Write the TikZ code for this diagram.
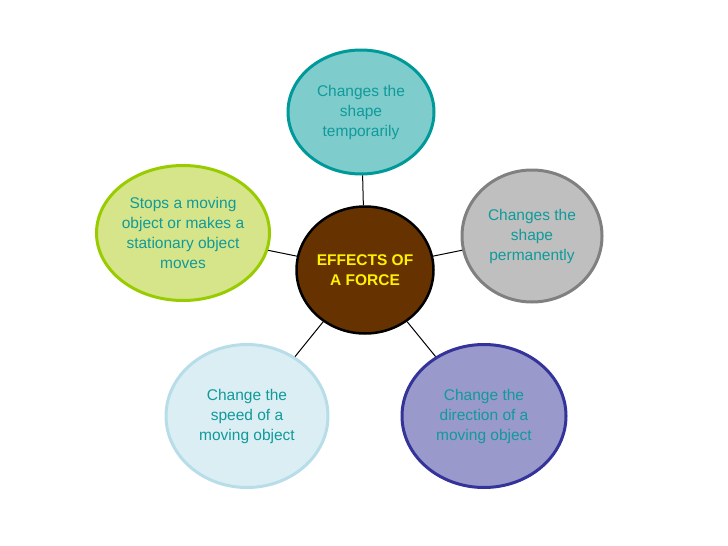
\documentclass[tikz,border=0pt]{standalone}
\usepackage{fontspec}
\setmainfont{Liberation Sans}
\usetikzlibrary{shapes.geometric}
\begin{document}
\begin{tikzpicture}[x=1pt,y=-1pt,
  bub/.style={ellipse,line width=3pt,font=\fontsize{15.5}{20}\selectfont,align=center,inner sep=0pt},
  con/.style={line width=1pt}]
\useasboundingbox (0,0) rectangle (728,546);
\definecolor{tealtext}{HTML}{109A9A}
\node[bub,text=tealtext,draw={rgb,255:red,0;green,153;blue,153},fill={rgb,255:red,127;green,204;blue,204},minimum width=146pt,minimum height=124pt] (t) at (361,112) {Changes the\\shape\\temporarily};
\node[bub,text=tealtext,draw={rgb,255:red,128;green,128;blue,128},fill={rgb,255:red,191;green,191;blue,191},minimum width=140pt,minimum height=132pt] (r) at (532,236) {Changes the\\shape\\permanently};
\node[bub,text=tealtext,draw={rgb,255:red,51;green,51;blue,153},fill={rgb,255:red,153;green,153;blue,204},minimum width=164pt,minimum height=143pt] (br) at (484,416) {Change the\\direction of a\\moving object};
\node[bub,text=tealtext,draw={rgb,255:red,183;green,221;blue,232},fill={rgb,255:red,219;green,238;blue,243},minimum width=162pt,minimum height=143pt] (bl) at (247,416) {Change the\\speed of a\\moving object};
\node[bub,text=tealtext,draw={rgb,255:red,153;green,204;blue,0},fill={rgb,255:red,214;green,229;blue,138},minimum width=157pt,minimum height=135pt] (l) at (183,233) {Stops a moving\\object or makes a\\stationary object\\moves};
\node[ellipse,line width=2.5pt,draw=black,fill={rgb,255:red,102;green,51;blue,0},text=yellow,font=\bfseries\fontsize{15.5}{20}\selectfont,align=center,inner sep=0pt,minimum width=137pt,minimum height=127pt] (c) at (365,270) {EFFECTS OF\\A FORCE};
\draw[con] (c) -- (t);
\draw[con] (c) -- (r);
\draw[con] (c) -- (br);
\draw[con] (c) -- (bl);
\draw[con] (c) -- (l);
\end{tikzpicture}
\end{document}
